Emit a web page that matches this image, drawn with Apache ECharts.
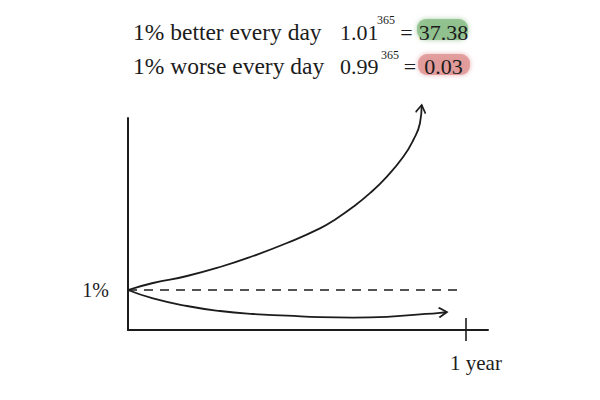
<!DOCTYPE html>
<html>
<head>
<meta charset="utf-8">
<script src="https://cdn.jsdelivr.net/npm/echarts@6/dist/echarts.min.js"></script>
<style>html,body{margin:0;padding:0;background:#fff}#c{width:600px;height:400px}</style>
</head>
<body>
<div id="c"></div>
<script>
// x: days since start, y: level relative to start (start = 1)
const betterDays   = [0, 27, 63.7, 99.4, 135, 171.7, 207.3, 225.4, 243.3, 261.3, 279.4, 297.3, 308.1, 315.3, 317.2];
const betterValues = [1.0, 1.175, 1.35, 1.575, 1.85, 2.175, 2.54, 2.79, 3.08, 3.42, 3.83, 4.33, 4.75, 5.17, 5.625];
const worseDays    = [0, 27, 63.7, 99.4, 135, 171.7, 207.3, 243, 279.7, 315.3, 337, 344.5];
const worseValues  = [1.0, 0.79, 0.6, 0.475, 0.4, 0.36, 0.32, 0.31, 0.33, 0.39, 0.43, 0.45];
const baselineDays   = [0, 356.4];
const baselineValues = [1, 1];
const yearDay = 365;
const startLevel = 1;
const xLabels = ['1 year'];
const yLabels = ['1%'];
const titleLines = [
  { label: '1% better every day', base: '1.01', exp: '365', result: '37.38' },
  { label: '1% worse every day',  base: '0.99', exp: '365', result: '0.03' }
];

const FONT = "'Liberation Serif','Times New Roman',serif";
const INK = '#1c1c1c';
const arrowPath = 'path://M0,8L5,0L10,8M5,-8';

function curveData(days, vals, rot) {
  return days.map((d, i) => i < days.length - 1
    ? { value: [d, vals[i]], symbol: 'none' }
    : { value: [d, vals[i]], symbolRotate: rot });
}

const chart = echarts.init(document.getElementById('c'), null, { renderer: 'svg' });

const g = [];
const rowY = [32, 66];
const expX = [386, 390];
const expY = [20, 55];
const eqX = [406.5, 410];
const blobColors = ['rgba(140,190,138,0.85)', 'rgba(225,150,150,0.85)'];
const blobBox = [[417, 19, 51, 21], [418, 54, 52, 21]];
titleLines.forEach((t, i) => {
  const b = blobBox[i];
  g.push({ type: 'rect', shape: { x: b[0], y: b[1], width: b[2], height: b[3], r: 9 },
    style: { fill: blobColors[i], shadowBlur: 5, shadowColor: blobColors[i] }, z: 1 });
  g.push({ type: 'text', x: 133, y: rowY[i], z: 2,
    style: { text: t.label, font: '23.5px ' + FONT, fill: INK, align: 'left', verticalAlign: 'middle' } });
  g.push({ type: 'text', x: 340, y: rowY[i], z: 2,
    style: { text: t.base, font: '22px ' + FONT, fill: INK, align: 'left', verticalAlign: 'middle' } });
  g.push({ type: 'text', x: expX[i], y: expY[i], z: 2,
    style: { text: t.exp, font: '12px ' + FONT, fill: INK, align: 'center', verticalAlign: 'middle' } });
  g.push({ type: 'text', x: eqX[i], y: rowY[i], z: 2,
    style: { text: '=', font: '22px ' + FONT, fill: INK, align: 'center', verticalAlign: 'middle' } });
  g.push({ type: 'text', x: 443.5, y: rowY[i], z: 2,
    style: { text: t.result, font: '22px ' + FONT, fill: INK, align: 'center', verticalAlign: 'middle' } });
});

const option = {
  animation: false,
  backgroundColor: '#fff',
  grid: { left: 128, top: 118, width: 360, height: 212 },
  xAxis: {
    type: 'value', min: 0, max: 388.8,
    axisLine: { show: true, lineStyle: { color: INK, width: 2 } },
    splitLine: { show: false },
    axisTick: { show: true, customValues: [yearDay], length: 11, lineStyle: { color: INK, width: 1.6 } },
    axisLabel: { customValues: [yearDay], formatter: () => xLabels[0], margin: 22,
      fontFamily: FONT, fontSize: 21, color: INK, padding: [0, 0, 0, 20] }
  },
  yAxis: {
    type: 'value', min: 0, max: 5.3,
    axisLine: { show: true, lineStyle: { color: INK, width: 2 } },
    splitLine: { show: false },
    axisTick: { show: false },
    axisLabel: { customValues: [startLevel], formatter: () => yLabels[0], margin: 19,
      fontFamily: FONT, fontSize: 20, color: INK }
  },
  graphic: g,
  series: [
    {
      type: 'line', data: baselineDays.map((d, i) => [d, baselineValues[i]]),
      symbol: 'none', lineStyle: { color: INK, width: 1.6, type: [9, 7] }, silent: true,
      markLine: {
        silent: true, symbol: 'none', label: { show: false },
        lineStyle: { color: INK, width: 1.6, type: 'solid' },
        data: [[{ coord: [yearDay, 0] }, { coord: [yearDay, 0.3] }]]
      }
    },
    {
      type: 'line', data: curveData(betterDays, betterValues, -8), smooth: true,
      clip: false, symbol: arrowPath, symbolSize: [10, 16], showSymbol: true,
      itemStyle: { color: 'rgba(0,0,0,0)', borderColor: INK, borderWidth: 1.8 },
      lineStyle: { color: INK, width: 1.8 }, silent: true
    },
    {
      type: 'line', data: curveData(worseDays, worseValues, -86), smooth: true,
      clip: false, symbol: arrowPath, symbolSize: [10, 16], showSymbol: true,
      itemStyle: { color: 'rgba(0,0,0,0)', borderColor: INK, borderWidth: 1.8 },
      lineStyle: { color: INK, width: 1.8 }, silent: true
    }
  ]
};
chart.setOption(option);
</script>
</body>
</html>
